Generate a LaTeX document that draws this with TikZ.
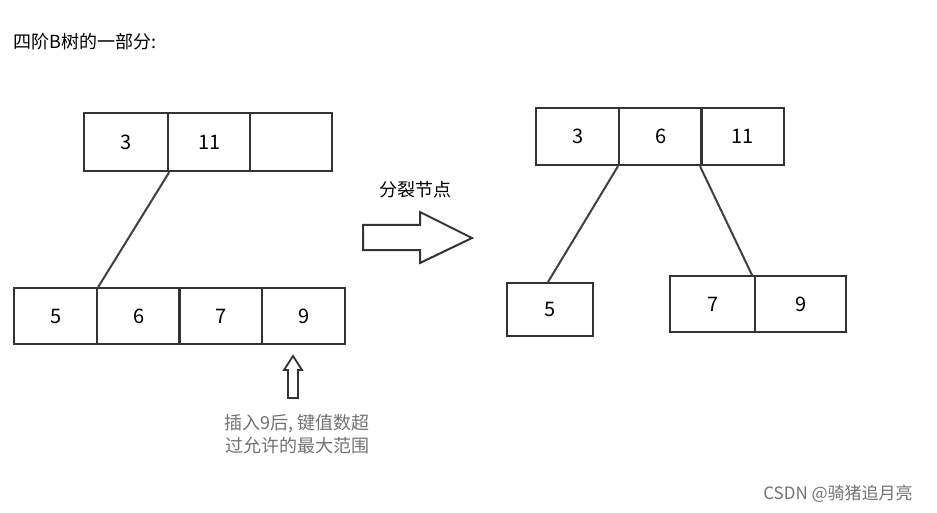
\documentclass[tikz,border=0pt]{standalone}
\usepackage{fontspec}
\setmainfont{Noto Sans CJK SC}
\begin{document}
\begin{tikzpicture}[x=1pt,y=-1pt,
    key/.style={draw=black!80, line width=2.2pt, minimum height=#1, inner sep=0pt, font=\fontsize{20}{24}\selectfont},
    link/.style={draw=black!75, line width=2pt},
    note/.style={font=\fontsize{18}{23}\selectfont}]
    \useasboundingbox (0,0) rectangle (937,513);
    \fill[white] (0,0) rectangle (937,513);

    \node[note, anchor=west] (title) at (10,42) {四阶B树的一部分:};

    % left tree
    \foreach \n/\x/\w/\t in {a/83/84/3, b/167/82/11, c/249/82/{}}
        \node[key=58pt, minimum width=\w pt, anchor=north west] (l\n) at (\x,112) {\t};
    \foreach \n/\x/\t in {d/13/5, e/96/6, f/178/7, g/261/9}
        \node[key=56pt, minimum width=83pt, anchor=north west] (l\n) at (\x,287) {\t};
    \draw[link] (la.south east) -- (ld.north east);

    \draw[draw=black!80, line width=1.8pt, fill=white]
        (288,398) -- (288,370) -- (284,370) -- (293,356) -- (302,370) -- (298,370) -- (298,398) -- cycle;
    \node[note, text=black!55, align=center] (hint) at (297,434) {插入9后, 键值数超\\过允许的最大范围};

    % split arrow
    \node[note] (split) at (415,190) {分裂节点};
    \draw[draw=black!80, line width=2pt, fill=white]
        (363,225) -- (420,225) -- (420,212) -- (472,238) -- (420,263) -- (420,250) -- (363,250) -- cycle;

    % right tree
    \foreach \n/\x/\t in {a/535/3, b/618/6, c/700/11}
        \node[key=57pt, minimum width=83pt, anchor=north west] (r\n) at (\x,107) {\t};
    \node[key=53pt, minimum width=86pt, anchor=north west] (rd) at (506,282) {5};
    \node[key=56pt, minimum width=85pt, anchor=north west] (re) at (669,275) {7};
    \node[key=56pt, minimum width=91pt, anchor=north west] (rf) at (754,275) {9};
    \draw[link] (rb.south west) -- ([xshift=42pt]rd.north west);
    \draw[link] (rc.south west) -- ([xshift=-2pt]rf.north west);

    \node[font=\fontsize{17}{20}\selectfont, text=black!55] (mark) at (838,494) {CSDN @骑猪追月亮};
\end{tikzpicture}
\end{document}
